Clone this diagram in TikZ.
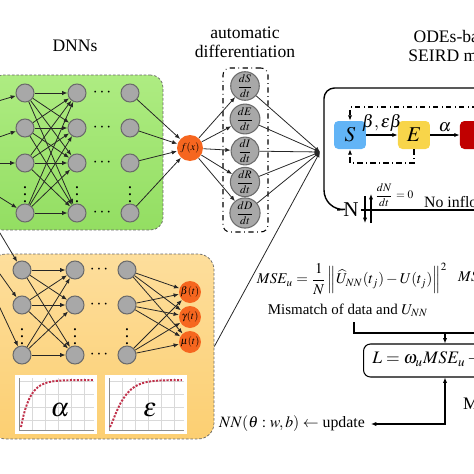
\documentclass[tikz,border=0pt]{standalone}
\usepackage{amsmath}
\usepackage{mathptmx}
\usepackage{fontspec}
\setmainfont{Liberation Serif}
\usetikzlibrary{positioning,arrows.meta,calc}

\definecolor{dnngreen}{HTML}{93DE62}
\definecolor{dnngreenlt}{HTML}{AEEC82}
\definecolor{parorange}{HTML}{FCCF72}
\definecolor{parorangelt}{HTML}{FDDE9C}
\definecolor{outorange}{HTML}{F6661F}
\definecolor{nodegray}{HTML}{A8A8A8}
\definecolor{sblue}{HTML}{62B4F6}
\definecolor{eyellow}{HTML}{F8D54A}
\definecolor{ired}{HTML}{C00000}
\definecolor{curvered}{HTML}{C0304A}

\begin{document}
\begin{tikzpicture}[x=0.02cm,y=-0.02cm,>={Latex[length=3pt,width=2.4pt]},on grid,
  nd/.style={circle,draw=black!58,fill=nodegray,line width=0.6pt,minimum size=0.36cm,inner sep=0pt},
  dv/.style={circle,draw=black!58,fill=nodegray,line width=0.6pt,minimum size=0.52cm,inner sep=0pt,font=\fontsize{6.5}{6.5}\selectfont},
  op/.style={circle,fill=outorange,minimum size=0.44cm,inner sep=0pt,font=\fontsize{6}{6}\selectfont},
  cmp/.style={rounded corners=2.5pt,minimum width=0.64cm,minimum height=0.56cm,inner sep=0pt,font=\large},
  lnk/.style={->,line width=0.45pt,black!85},
  dd/.style={dash dot,line width=0.6pt},
  dts/.style={inner sep=0pt},
  plt/.style={fill=white,minimum width=1.64cm,minimum height=1.18cm,inner sep=0pt},
  ttl/.style={font=\fontsize{10}{11}\selectfont,align=center}]
\useasboundingbox (0,0) rectangle (474,474);
\clip (0,0) rectangle (474,474);

% DNNs for the states
\node[draw=black!60,dash pattern=on 1.5pt off 1pt,rounded corners=7pt,top color=dnngreenlt,bottom color=dnngreen,minimum width=3.46cm,minimum height=3.1cm] (dnn) at (76.5,152.5) {};
\node[ttl] (tdnn) at (75,46) {DNNs};
\foreach \y [count=\i] in {93,128,163,213} {
  \node[nd] (a\i) at (25,\y) {};
  \node[nd] (b\i) at (77,\y) {};
  \node[nd] (c\i) at (130,\y) {};
  \node[dts] (h\i) at (103,\y) {$\cdots$};
}
\foreach \x [count=\i] in {25,77,130} \node[dts] (v\i) at (\x,189) {$\vdots$};
\foreach \y [count=\i] in {105,142,163,188} \coordinate (gi\i) at (-15,\y);
\node[op,minimum size=0.52cm] (fx) at (190,148) {$f(x)$};
\foreach \i in {1,...,4} {
  \draw[lnk] (gi\i) -- (a\i);
  \draw[lnk] (c\i) -- (fx);
  \foreach \j in {1,...,4} \draw[lnk] (a\i) -- (b\j);
}

% DNNs for the parameters
\node[draw=black!60,dash pattern=on 1.5pt off 1pt,rounded corners=9pt,top color=parorangelt,bottom color=parorange,minimum width=4.48cm,minimum height=3.7cm] (pinn) at (102,346.5) {};
\foreach \y [count=\i] in {270,305,355} {
  \node[nd] (p\i) at (22,\y) {};
  \node[nd] (q\i) at (75,\y) {};
  \node[nd] (r\i) at (127,\y) {};
  \node[dts] (k\i) at (100,\y) {$\cdots$};
}
\foreach \x [count=\i] in {22,75,127} \node[dts] (w\i) at (\x,331) {$\vdots$};
\node[op] (o1) at (190,292) {$\beta(t)$};
\node[op] (o2) at (190,317) {$\gamma(t)$};
\node[op] (o3) at (190,342) {$\mu(t)$};
\foreach \y [count=\i] in {208,253,276} \coordinate (pi\i) at (-15,\y);
\foreach \i in {1,2,3} {
  \draw[lnk] (pi\i) -- (p\i);
  \foreach \j in {1,2,3} {
    \draw[lnk] (p\i) -- (q\j);
    \draw[lnk] (r\i) -- (o\j);
  }
}

% learned parameters
\node[plt] (pa) at (56,404.5) {};
\node[plt] (pe) at (146,404.5) {};
\foreach \s in {0,90} {
  \foreach \gx in {32,45,58,71,84} \draw[black!15,line width=0.3pt] (\s+\gx,378) -- (\s+\gx,430);
  \foreach \gy in {381,394,407,420} \draw[black!15,line width=0.3pt] (\s+19,\gy) -- (\s+94,\gy);
  \draw[black!45,line width=0.4pt] (\s+19,378) -- (\s+19,430) -- (\s+94,430);
}
\draw[curvered,line width=1.1pt,dash pattern=on 1.2pt off 0.8pt] plot[domain=0:1,samples=50] ({21+72*\x},{427-47*(1-exp(-8*\x))});
\draw[curvered,line width=1.1pt,dash pattern=on 1.2pt off 0.8pt] plot[domain=0:1,samples=50] ({110+72*\x},{427-47*(1-exp(-7*\x^1.2))});
\node (la) at (60,410) {\fontsize{15}{15}\selectfont$\alpha$};
\node (le) at (150,410) {\fontsize{15}{15}\selectfont$\varepsilon$};

% automatic differentiation
\node[ttl] (tad) at (245,42) {automatic\\differentiation};
\node[draw,dd,rounded corners=4pt,minimum width=0.9cm,minimum height=3.28cm] (adbox) at (245.5,150) {};
\foreach \v/\y in {S/86,E/119,I/151,R/182,D/213} {
  \node[dv] (d\v) at (245,\y) {$\dfrac{d\v}{dt}$};
  \draw[lnk] (fx) -- (d\v);
}
\coordinate (jn) at (320,152);
\foreach \v in {S,E,I,R,D} \draw[lnk] (d\v) -- (jn);
\draw[lnk] (pinn.east) -- (jn);

% SEIRD model
\node[ttl] (tode) at (458,46) {ODEs-based\\SEIRD model};
\node[font=\large] (N) at (351,210) {N};
\draw[line width=0.8pt,rounded corners=6pt] (490,88) -| (324,170) [rounded corners=12pt] -- (324,211) -- (N.west);
\node[cmp,fill=sblue] (S) at (350,135) {$S$};
\node[cmp,fill=eyellow,right=1.28cm of S] (E) {$E$};
\node[cmp,fill=ired,right=1.24cm of E] (Ib) {};
\draw[->,line width=0.6pt] (S) -- node[above,inner sep=1.5pt,font=\normalsize] (lse) {$\beta,\varepsilon\beta$} (E);
\draw[->,line width=0.6pt] (E) -- node[above,inner sep=1.5pt,font=\normalsize] (lei) {$\alpha$} (Ib);
\coordinate (ft) at (350,107);
\coordinate (fr) at (490,107);
\coordinate (fb) at (350,163);
\draw[dd,->] (fr) -- (ft) -- (S.north);
\draw[dd,->] (E.south) |- (fb) -- (S.south);
\coordinate (na1) at (365,196);
\coordinate (na2) at (365,223);
\coordinate (nb1) at (371,223);
\coordinate (nb2) at (371,194);
\draw[->,line width=0.6pt] (na1) -- (na2);
\draw[->,line width=0.6pt] (nb1) -- (nb2);
\coordinate (nl) at (361,210);
\coordinate (nr) at (490,210);
\draw[line width=0.6pt] (nl) -- (nr);
\node[font=\fontsize{6.5}{6.5}\selectfont] (dn) at (394,195) {$\dfrac{dN}{dt}=0$};
\node[anchor=west,font=\small] (noin) at (418,202) {No inflow or outflow};

% loss
\node[font=\fontsize{8.5}{10}\selectfont] (mse) at (352,279) {$MSE_u=\dfrac{1}{N}\left\|\widehat{U}_{NN}(t_j)-U(t_j)\right\|^2$};
\node[anchor=west,font=\fontsize{8.5}{10}\selectfont] (msef) at (452,279) {$MSE_f$};
\node[font=\fontsize{8.5}{10}\selectfont] (mis) at (348,310) {Mismatch of data and $U_{NN}$};
\node[draw,rounded corners=4pt,line width=0.6pt,anchor=west,minimum height=0.66cm,inner xsep=5pt] (L) at (363,360.5) {$L=\omega_u MSE_u+\omega_f MSE_f$};
\coordinate (ms) at (354,322);
\coordinate (mr) at (490,333);
\coordinate (lt) at (445,333);
\draw[line width=0.6pt] (ms) |- (mr);
\draw[->,line width=0.6pt] (lt) -- (lt |- L.north);
\node[anchor=east,font=\fontsize{9}{10}\selectfont] (upd) at (371,424) {$NN(\theta:w,b)\leftarrow$ update};
\coordinate (lb) at (445,424);
\draw[<->,line width=0.6pt] (upd.east) -| (lb |- L.south);
\node[anchor=west] (mt) at (457,404) {Minimize};
\end{tikzpicture}
\end{document}
